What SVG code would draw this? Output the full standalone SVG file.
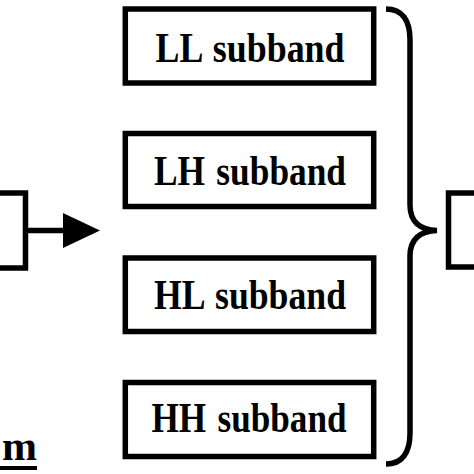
<svg xmlns="http://www.w3.org/2000/svg" width="474" height="474" viewBox="0 0 474 474">
  <style>
    .box { fill: #fff; stroke: #000; stroke-width: 5.5; }
    .lbl { font-family: "Liberation Serif", "Times New Roman", serif; font-weight: bold; font-size: 43px; fill: #000; text-anchor: middle; word-spacing: 3px; }
    .line { fill: none; stroke: #000; stroke-width: 5.5; }
  </style>
  <rect width="474" height="474" fill="#fff"/>
  <g id="input">
    <rect class="box" x="-20" y="193" width="45.5" height="75"/>
  </g>
  <g id="output">
    <rect class="box" x="448.5" y="193" width="40" height="74"/>
  </g>
  <g id="ll">
    <rect class="box" x="125.3" y="9" width="248.4" height="74"/>
    <text class="lbl" x="250" y="62" textLength="189" lengthAdjust="spacingAndGlyphs">LL subband</text>
  </g>
  <g id="lh">
    <rect class="box" x="125.3" y="133.5" width="248.4" height="73"/>
    <text class="lbl" x="250" y="185" textLength="192" lengthAdjust="spacingAndGlyphs">LH subband</text>
  </g>
  <g id="hl">
    <rect class="box" x="125.3" y="258" width="248.4" height="73.5"/>
    <text class="lbl" x="250" y="309" textLength="192" lengthAdjust="spacingAndGlyphs">HL subband</text>
  </g>
  <g id="hh">
    <rect class="box" x="125.3" y="382.5" width="248.4" height="74"/>
    <text class="lbl" x="249" y="432" textLength="195" lengthAdjust="spacingAndGlyphs">HH subband</text>
  </g>
  <g id="connectors">
    <line class="line" x1="28" y1="230.5" x2="66" y2="230.5"/>
    <polygon points="63,213 100,230.5 63,248" fill="#000"/>
    <path class="line" stroke-width="5" d="M386,9 C402,9 410,20 410,40 L410,205 C410,222 420,230 437,230.5 C420,231 410,239 410,256 L410,433 C410,453 402,464 386,464"/>
  </g>
  <g id="caption">
    <text x="2" y="460" font-family="Liberation Serif, Times New Roman, serif" font-weight="bold" font-size="42" fill="#000">m</text>
    <rect x="0" y="466" width="37" height="4" fill="#000"/>
  </g>
</svg>
